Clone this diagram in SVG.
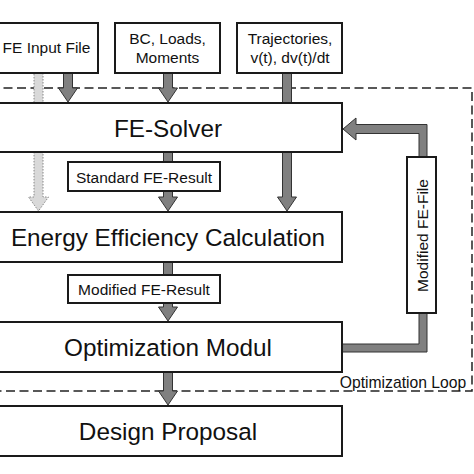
<svg xmlns="http://www.w3.org/2000/svg" width="474" height="474" viewBox="0 0 474 474">
<style>
.box{fill:#fff;stroke:#1a1a1a;stroke-width:2}
.t{font-family:"Liberation Sans",Arial,sans-serif;fill:#111;text-anchor:middle}
.big{font-size:24.3px}
.sm{font-size:15.5px}
.arr{fill:#808080;stroke:#333;stroke-width:1}
.lt{fill:#d9d9d9;stroke:#888;stroke-width:1;stroke-dasharray:1.5 1.5}
.loop{fill:none;stroke:#222;stroke-width:1.5;stroke-dasharray:9 4.5}
</style>
<rect width="474" height="474" fill="#fff"/>
<g id="optimization-loop">
<rect class="loop" x="-10" y="88" width="482" height="303"/>
<text class="t" x="403" y="388" style="font-size:15.7px">Optimization Loop</text>
</g>
<g id="connectors">
<polygon class="lt" points="34,73 43,73 43,197 48.5,197 38.5,211 28.5,197 34,197"/>
<polygon class="arr" points="63.5,73 72.5,73 72.5,88 77.5,88 68,102 58.5,88 63.5,88"/>
<polygon class="arr" points="163.5,73 172.5,73 172.5,88 177.5,88 168,102 158.5,88 163.5,88"/>
<polygon class="arr" points="282.5,73 291.5,73 291.5,197 296.5,197 287,211 277.5,197 282.5,197"/>
<polygon class="arr" points="163.5,152 172.5,152 172.5,197 177.5,197 168,211 158.5,197 163.5,197"/>
<polygon class="arr" points="163.5,262 172.5,262 172.5,307 177.5,307 168,321 158.5,307 163.5,307"/>
<polygon class="arr" points="163.5,372 172.5,372 172.5,391 177.5,391 168,405 158.5,391 163.5,391"/>
<polygon class="arr" points="419,157 419,133.5 356,133.5 356,140 343,129 356,118 356,124.5 427,124.5 427,157"/>
<polygon class="arr" points="342,344 419,344 419,313 427,313 427,352 342,352"/>
</g>
<g id="fe-input-file">
<rect class="box" x="-5" y="23" width="103" height="50"/>
<text class="t sm" x="46.5" y="53">FE Input File</text>
</g>
<g id="bc-loads-moments">
<rect class="box" x="115" y="23" width="105" height="50"/>
<text class="t sm" x="167.5" y="44">BC, Loads,</text>
<text class="t sm" x="167.5" y="63">Moments</text>
</g>
<g id="trajectories">
<rect class="box" x="237" y="23" width="105" height="50"/>
<text class="t sm" x="290" y="44">Trajectories,</text>
<text class="t sm" x="290" y="63">v(t), dv(t)/dt</text>
</g>
<g id="fe-solver">
<rect class="box" x="-5" y="103" width="347" height="49"/>
<text class="t big" x="168" y="137">FE-Solver</text>
</g>
<g id="standard-fe-result">
<rect class="box" x="68" y="162" width="152" height="29"/>
<text class="t sm" x="144" y="183">Standard FE-Result</text>
</g>
<g id="energy-efficiency">
<rect class="box" x="-5" y="212" width="347" height="50"/>
<text class="t big" x="168" y="246">Energy Efficiency Calculation</text>
</g>
<g id="modified-fe-result">
<rect class="box" x="68" y="275" width="152" height="28"/>
<text class="t sm" x="144" y="295">Modified FE-Result</text>
</g>
<g id="optimization-modul">
<rect class="box" x="-5" y="322" width="347" height="50"/>
<text class="t big" x="168" y="356">Optimization Modul</text>
</g>
<g id="modified-fe-file">
<rect class="box" x="407" y="157" width="29" height="156"/>
<text class="t sm" transform="translate(428,235.5) rotate(-90)" x="0" y="0">Modified FE-File</text>
</g>
<g id="design-proposal">
<rect class="box" x="-5" y="406" width="347" height="50"/>
<text class="t big" x="168" y="440">Design Proposal</text>
</g>
</svg>
